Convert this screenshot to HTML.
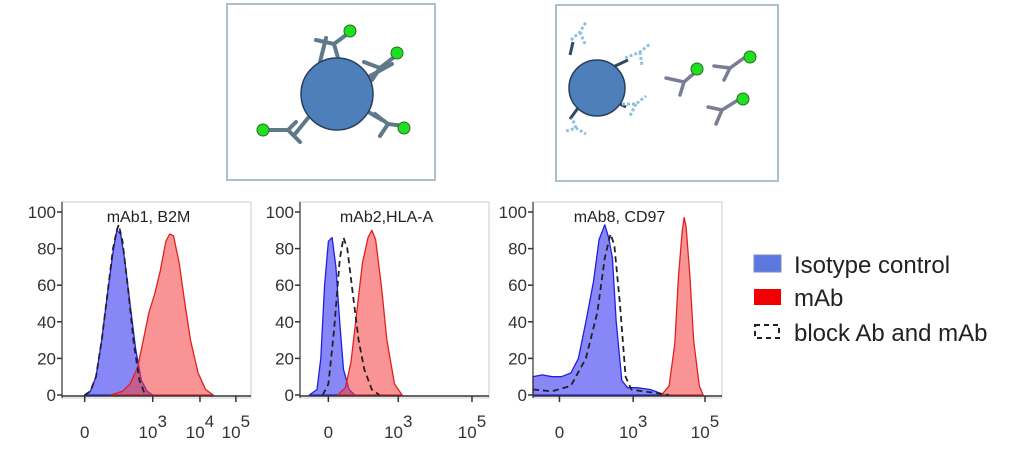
<!DOCTYPE html>
<html><head><meta charset="utf-8"><style>
body{margin:0;background:#fff;width:1024px;height:453px;overflow:hidden;font-family:"Liberation Sans",sans-serif}
</style></head><body>
<svg id="fig" width="1024" height="453" viewBox="0 0 1024 453" xmlns="http://www.w3.org/2000/svg">
<g>
<rect x="227" y="4" width="208" height="176" fill="#fff" stroke="#a9c1c7" stroke-width="2"/>
<g stroke="#5e7a8a" stroke-width="4" stroke-linecap="round" fill="none">
<line x1="320" y1="62" x2="326" y2="38"/><path d="M316 40 L334 44 L350 32 M334 44 L338 58"/>
<line x1="370" y1="76" x2="392" y2="64"/><path d="M364 62 L380 68 L398 54 M380 68 L372 80"/>
<line x1="308" y1="118" x2="295" y2="134"/><path d="M270 130 L288 130 L300 142 M288 130 L296 122"/>
<line x1="365" y1="110" x2="382" y2="120"/><path d="M375 114 L388 124 L404 126 M388 124 L380 136"/>
</g>
<circle cx="337" cy="94" r="36" fill="#4d7fba" stroke="#2a3f5a" stroke-width="1.5"/>
<g fill="#1ee01e" stroke="#2a6a2a" stroke-width="1"><circle cx="350" cy="31" r="6"/><circle cx="397" cy="53" r="6"/><circle cx="263" cy="130" r="6"/><circle cx="404" cy="128" r="6"/></g>
</g>
<g>
<rect x="556" y="5" width="222" height="176" fill="#fff" stroke="#a9c1c7" stroke-width="2"/>
<g stroke="#2f4a66" stroke-width="3"><line x1="570" y1="119" x2="578" y2="108"/><line x1="628" y1="60" x2="613" y2="67"/><line x1="626" y1="107" x2="614" y2="101"/><line x1="570" y1="55" x2="573" y2="42"/></g>
<g stroke="#8fc3dc" stroke-width="3" stroke-dasharray="3 2" fill="none">
<path d="M571 40 L580 32 L586 22 M580 32 L585 44"/><path d="M625 58 L640 52 L650 44 M640 52 L642 66"/>
<path d="M622 104 L636 104 L646 96 M636 104 L630 116"/><path d="M566 131 L576 128 L586 134 M576 128 L572 118"/>
</g>
<g stroke="#7a7d95" stroke-width="3.5" fill="none" stroke-linecap="round">
<path d="M666 78 L684 82 L698 70 M684 82 L680 95"/><path d="M714 66 L730 68 L744 58 M730 68 L724 80"/><path d="M708 107 L722 110 L738 100 M722 110 L716 124"/>
</g>
<circle cx="597" cy="88" r="28" fill="#4d7fba" stroke="#2a3f5a" stroke-width="1.5"/>
<g fill="#1ee01e" stroke="#2a6a2a" stroke-width="1"><circle cx="697" cy="69" r="6"/><circle cx="750" cy="57" r="6"/><circle cx="743" cy="99" r="6"/></g>
</g>
<g id="charts"></g>
<g font-size="24" fill="#222">
<rect x="754" y="255" width="27" height="17" fill="#5b78e0" stroke="#7a8bbf"/>
<text x="794" y="273">Isotype control</text>
<rect x="754" y="289" width="27" height="16" fill="#f00000"/>
<text x="794" y="306">mAb</text>
<rect x="755" y="325" width="24" height="13" fill="none" stroke="#222" stroke-width="2" stroke-dasharray="5 4"/>
<text x="794" y="341">block Ab and mAb</text>
</g>
</svg>
<script>
// x positions in axis units 0..100 (fraction of display width), y = % of max
const p1Title="mAb1, B2M";
const p1BlueX=[12,15,18,21,24,27,29,31,33,36,39,42,45,48];
const p1BlueY=[0,2,10,30,55,78,90,88,75,50,25,8,2,0];
const p1RedX=[26,32,36,40,43,46,49,52,55,57,59,62,65,68,72,76,80];
const p1RedY=[0,2,6,15,30,45,55,68,84,88,87,72,50,30,12,3,0];
const p1DashX=[12,15,18,21,24,27,29,30,32,35,38,41,44];
const p1DashY=[0,2,10,30,55,80,90,93,84,58,28,8,0];
const p1Ticks=[{x:12,t:"0"},{x:48,t:"10",e:"3"},{x:73,t:"10",e:"4"},{x:92,t:"10",e:"5"}];

const p2Title="mAb2,HLA-A";
const p2BlueX=[5,9,11,13,15,17,19,21,23,26,29];
const p2BlueY=[0,3,20,60,84,86,70,40,14,3,0];
const p2RedX=[20,24,27,30,33,36,38,40,43,46,50,54];
const p2RedY=[0,4,18,45,72,86,90,85,60,30,6,0];
const p2DashX=[12,15,18,21,23,25,28,31,34,38,42];
const p2DashY=[0,6,35,74,86,80,55,30,14,3,0];
const p2Ticks=[{x:15,t:"0"},{x:52,t:"10",e:"3"},{x:91,t:"10",e:"5"}];

const p3Title="mAb8, CD97";
const p3BlueX=[0,5,10,15,20,24,28,32,35,38,40,42,44,47,50,55,62,70];
const p3BlueY=[10,11,10,10,12,20,40,62,85,93,86,75,40,8,4,4,3,0];
const p3RedX=[68,72,75,77,79,80,81,83,85,88,90];
const p3RedY=[0,5,28,65,90,97,92,65,30,5,0];
const p3DashX=[0,10,20,28,34,38,41,43,46,49,52,58,66,72];
const p3DashY=[3,2,5,20,45,75,88,82,50,10,3,2,1,0];
const p3Ticks=[{x:14,t:"0"},{x:53,t:"10",e:"3"},{x:91,t:"10",e:"5"}];
const yTicks=[0,20,40,60,80,100];

const NS="http://www.w3.org/2000/svg";
const root=document.getElementById('charts');
function mk(tag,attrs,parent){const e=document.createElementNS(NS,tag);for(const k in attrs)e.setAttribute(k,attrs[k]);parent.appendChild(e);return e;}
function panel(name,left,title,bx,by,rx,ry,dx,dy,ticks){
  const g=mk('g',{},root);
  
  
  const W=189,top=202,bot=398,y0=395,y100=212;
  const sx=v=>left+v/100*W, sy=v=>y0-(v/100)*(y0-y100);
  const frame=mk('rect',{x:left,y:top,width:W,height:bot-top,fill:'#fff',stroke:'#ccc','stroke-width':1},g);
  
  
  function area(xs,ys,fill,stroke,nm){
    let d='M'+sx(xs[0])+' '+sy(0);
    xs.forEach((x,i)=>d+=' L'+sx(x).toFixed(1)+' '+sy(ys[i]).toFixed(1));
    d+=' L'+sx(xs[xs.length-1])+' '+sy(0)+' Z';
    const p=mk('path',{d:d,fill:fill,stroke:stroke,'stroke-width':1.3,'stroke-linejoin':'round'},g);
    
    
  }
  area(bx,by,'rgba(70,70,245,0.65)','#2020e0','isotype-histogram');
  area(rx,ry,'rgba(245,60,60,0.55)','#e02020','mab-histogram');
  let d='';dx.forEach((x,i)=>d+=(i?' L':'M')+sx(x).toFixed(1)+' '+sy(dy[i]).toFixed(1));
  const dl=mk('path',{d:d,fill:'none',stroke:'#222','stroke-width':1.8,'stroke-dasharray':'6 4'},g);
  
  
  mk('line',{x1:left,y1:bot-2,x2:left+W,y2:bot-2,stroke:'#333','stroke-width':1.5},g);
  mk('line',{x1:left,y1:top,x2:left,y2:bot,stroke:'#333','stroke-width':1.2},g);
  yTicks.forEach(v=>{
    mk('line',{x1:left-5,y1:sy(v),x2:left,y2:sy(v),stroke:'#333','stroke-width':1.5},g);
    const t=mk('text',{x:left-6,y:sy(v)+6,'text-anchor':'end','font-size':17,fill:'#333'},g);
    t.textContent=v;
    
    
  });
  ticks.forEach(tk=>{
    const t=mk('text',{x:sx(tk.x),y:438,'text-anchor':'middle','font-size':17,fill:'#333'},g);
    
    
    t.appendChild(document.createTextNode(tk.t));
    if(tk.e){const s=mk('tspan',{dy:-11,'font-size':17},t);s.textContent=tk.e;}
    mk('line',{x1:sx(tk.x),y1:bot-2,x2:sx(tk.x),y2:bot+4,stroke:'#333','stroke-width':1.5},g);
  });
  const tt=mk('text',{x:left+W/2-8,y:222,'text-anchor':'middle','font-size':16,fill:'#222'},g);
  tt.textContent=title;
  
  
}
panel('histogram-mab1',62,p1Title,p1BlueX,p1BlueY,p1RedX,p1RedY,p1DashX,p1DashY,p1Ticks);
panel('histogram-mab2',300,p2Title,p2BlueX,p2BlueY,p2RedX,p2RedY,p2DashX,p2DashY,p2Ticks);
panel('histogram-mab8',533,p3Title,p3BlueX,p3BlueY,p3RedX,p3RedY,p3DashX,p3DashY,p3Ticks);
</script>
</body></html>
